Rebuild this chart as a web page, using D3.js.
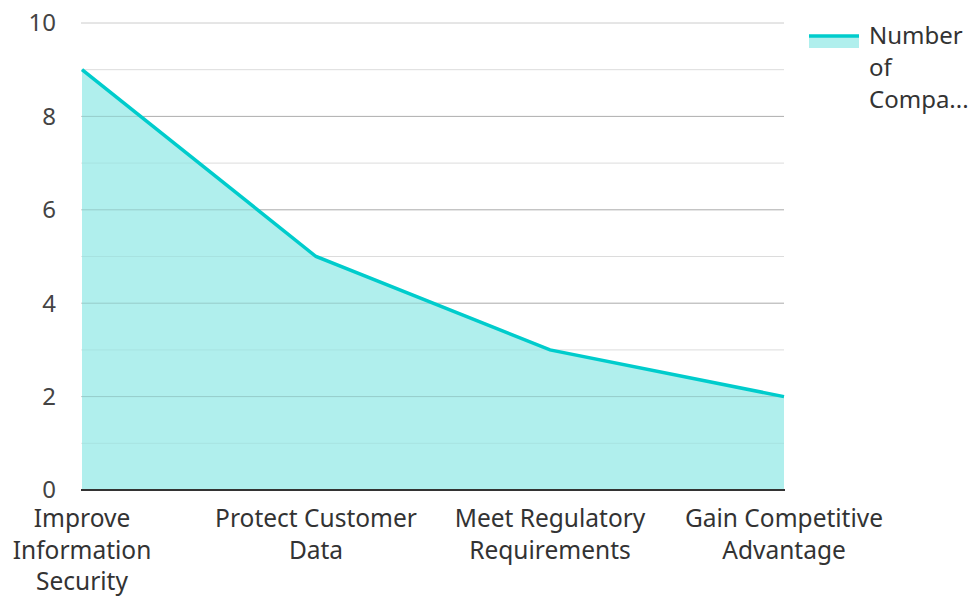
<!DOCTYPE html>
<html>
<head>
<meta charset="utf-8">
<script src="https://cdn.jsdelivr.net/npm/d3@7"></script>
<style>
  body { margin: 0; background: #fff; }
  svg { display: block; font-family: "Noto Sans", sans-serif; }
</style>
</head>
<body>
<svg id="chart" width="974" height="597"></svg>
<script>
const categories = [
  ["Improve", "Information", "Security"],
  ["Protect Customer", "Data"],
  ["Meet Regulatory", "Requirements"],
  ["Gain Competitive", "Advantage"]
];
const values = [9, 5, 3, 2];
const seriesName = ["Number", "of", "Compa..."];
const yTicks = [0, 2, 4, 6, 8, 10];

const svg = d3.select('#chart');
const margin = { left: 82, right: 190, top: 23, bottom: 107 };
const width = 974, height = 597;

const x = d3.scalePoint()
  .domain(d3.range(values.length))
  .range([margin.left, width - margin.right]);
const y = d3.scaleLinear()
  .domain([0, 10])
  .range([height - margin.bottom, margin.top]);

const lineColor = '#00cccc';
const fillColor = '#b0efed';

// Gridlines (major on even, lighter on odd)
svg.append('g')
  .selectAll('line')
  .data(d3.range(1, 11))
  .join('line')
  .attr('x1', margin.left - 1)
  .attr('x2', width - margin.right)
  .attr('y1', d => y(d))
  .attr('y2', d => y(d))
  .attr('stroke', d => d % 2 === 0 ? '#cccccc' : '#e8e8e8')
  .attr('stroke-width', 1);

// Area
const area = d3.area()
  .x((d, i) => x(i))
  .y0(y(0))
  .y1(d => y(d));
svg.append('path')
  .datum(values)
  .attr('d', area)
  .attr('fill', fillColor);

// Gridlines showing through the area
svg.append('g')
  .selectAll('line')
  .data(d3.range(1, 10))
  .join('line')
  .attr('x1', margin.left)
  .attr('x2', width - margin.right)
  .attr('y1', d => y(d))
  .attr('y2', d => y(d))
  .attr('stroke', d => d % 2 === 0 ? 'rgba(0,0,0,0.15)' : 'rgba(0,0,0,0.05)')
  .attr('stroke-width', 1);

// Line
const line = d3.line()
  .x((d, i) => x(i))
  .y(d => y(d));
svg.append('path')
  .datum(values)
  .attr('d', line)
  .attr('fill', 'none')
  .attr('stroke', lineColor)
  .attr('stroke-width', 3.5);

// Baseline
svg.append('line')
  .attr('x1', margin.left - 1)
  .attr('x2', width - margin.right + 1)
  .attr('y1', y(0))
  .attr('y2', y(0))
  .attr('stroke', '#333')
  .attr('stroke-width', 2);

// Y tick labels
svg.append('g')
  .selectAll('text')
  .data(yTicks)
  .join('text')
  .attr('x', 56)
  .attr('y', d => y(d))
  .attr('dy', '0.35em')
  .attr('text-anchor', 'end')
  .attr('font-size', 24)
  .attr('fill', '#444')
  .text(d => d);

// X labels
const xl = svg.append('g')
  .selectAll('text')
  .data(categories)
  .join('text')
  .attr('x', (d, i) => x(i))
  .attr('y', 527)
  .attr('text-anchor', 'middle')
  .attr('font-size', 24.5)
  .attr('fill', '#333');
xl.selectAll('tspan')
  .data(d => d)
  .join('tspan')
  .attr('x', function () { return d3.select(this.parentNode).attr('x'); })
  .attr('dy', (d, i) => i === 0 ? 0 : 31.5)
  .text(d => d);

// Legend
const lg = svg.append('g');
lg.append('rect')
  .attr('x', 809).attr('y', 35)
  .attr('width', 50).attr('height', 13)
  .attr('fill', fillColor);
lg.append('line')
  .attr('x1', 809).attr('x2', 859)
  .attr('y1', 36).attr('y2', 36)
  .attr('stroke', lineColor)
  .attr('stroke-width', 3.5);
lg.append('text')
  .attr('x', 869)
  .attr('y', 44)
  .attr('font-size', 24)
  .attr('fill', '#333')
  .selectAll('tspan')
  .data(seriesName)
  .join('tspan')
  .attr('x', 869)
  .attr('dy', (d, i) => i === 0 ? 0 : 32)
  .text(d => d);
</script>
</body>
</html>
